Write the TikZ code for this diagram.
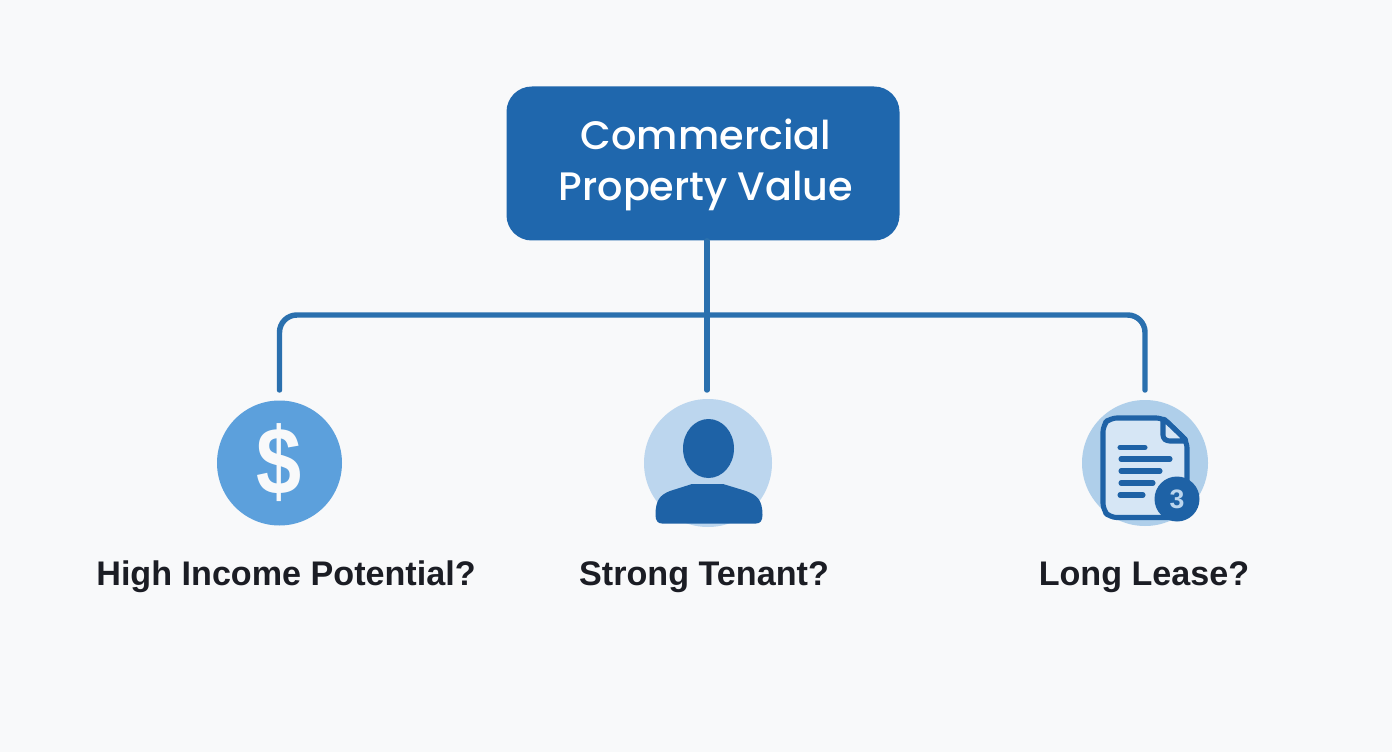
\documentclass[tikz,border=0pt]{standalone}
\usepackage{fontspec}
\setmainfont{Poppins}[UprightFont=* Medium]
\newfontfamily\labfont{Liberation Sans}
\definecolor{bgc}{HTML}{F8F9FA}
\definecolor{boxc}{HTML}{1F67AD}
\definecolor{linec}{HTML}{2A70AE}
\definecolor{midc}{HTML}{5CA0DC}
\definecolor{palec}{HTML}{BCD6EE}
\definecolor{palec2}{HTML}{AFCFEA}
\definecolor{docc}{HTML}{D6E6F5}
\definecolor{darkc}{HTML}{1E62A6}
\definecolor{inkc}{HTML}{1B1D24}
\tikzset{
  x=0.75pt,y=-0.75pt,
  titlebox/.style={draw=none,fill=boxc,rounded corners=19pt,minimum width=294.75pt,minimum height=115.5pt,inner sep=0pt},
  conn/.style={draw=linec,line width=4.1pt,line cap=round,rounded corners=13pt},
  lab/.style={text=inkc,font=\fontsize{25.6pt}{30pt}\labfont\bfseries,inner sep=0pt,anchor=base},
  iconline/.style={draw=darkc,line width=3.8pt,line cap=round},
}
\begin{document}
\begin{tikzpicture}
\useasboundingbox (0,0) rectangle (1392,752);
\fill[bgc] (0,0) rectangle (1392,752);
% connectors
\coordinate (jn) at (707,315);
\coordinate (e1) at (279.5,390);
\coordinate (e2) at (707,390);
\coordinate (e3) at (1145,390);
\node[titlebox] (root) at (703,163.5) {};
\node[text=white,font=\fontsize{29.8pt}{38pt}\selectfont,align=center,inner sep=0pt] (rootlabel) at (706,165) {Commercial\\Property Value};
\draw[conn] (root.south -| jn) -- (e2);
\draw[conn] (e1) -- (279.5,315) -- (1145,315) -- (e3);
% dollar icon
\node[circle,fill=midc,minimum size=93.75pt,inner sep=0pt] (dollar) at (279.5,463) {};
\node[text=bgc,font=\fontsize{64pt}{64pt}\labfont\bfseries,inner sep=0pt] (dollarsign) at (279.5,463) {\scalebox{0.95}[1.12]{\$}};
% person icon
\node[circle,fill=palec,minimum size=96pt,inner sep=0pt] (person) at (708,463) {};
\fill[darkc] (708.5,448.5) ellipse [x radius=25.5,y radius=29.5];
\fill[darkc] (655.5,515) .. controls (655.5,500) and (660,495) .. (670,491)
  -- (692,484) -- (723,484) -- (746,491)
  .. controls (757,495) and (762.5,500) .. (762.5,515)
  .. controls (762.5,521) and (760,523.5) .. (756,523.5)
  -- (662,523.5) .. controls (658,523.5) and (655.5,521) .. (655.5,515) -- cycle;
% document icon
\node[circle,fill=palec2,minimum size=94.5pt,inner sep=0pt] (doc) at (1145,463) {};
\draw[darkc,fill=docc,line width=3.8pt,line join=round,rounded corners=5pt]
  (1103,425) -- (1103,510) -- (1110,517.5) -- (1180,517.5) -- (1187,510) -- (1187,441)
  -- (1163,418) -- (1110,418) -- cycle;
\draw[darkc,fill=docc,line width=3.8pt,line join=round,rounded corners=2pt]
  (1163,418) -- (1163,438) -- (1167,441) -- (1187,441) -- cycle;
\draw[iconline] (1120,447.5) -- (1145,447.5);
\draw[iconline] (1121,459) -- (1170,459);
\draw[iconline] (1121,471) -- (1160,471);
\draw[iconline] (1121,483) -- (1153,483);
\draw[iconline] (1120,495) -- (1143,495);
\node[circle,fill=darkc,minimum size=33.75pt,inner sep=0pt] (badge) at (1177,499) {};
\node[text=palec,font=\fontsize{20pt}{20pt}\labfont\bfseries,inner sep=0pt] (badgenum) at (1177,499) {3};
% labels
\node[lab] (l1) at (286,585) {High Income Potential?};
\node[lab] (l2) at (704,585) {Strong Tenant?};
\node[lab] (l3) at (1144,585) {Long Lease?};
\end{tikzpicture}
\end{document}
